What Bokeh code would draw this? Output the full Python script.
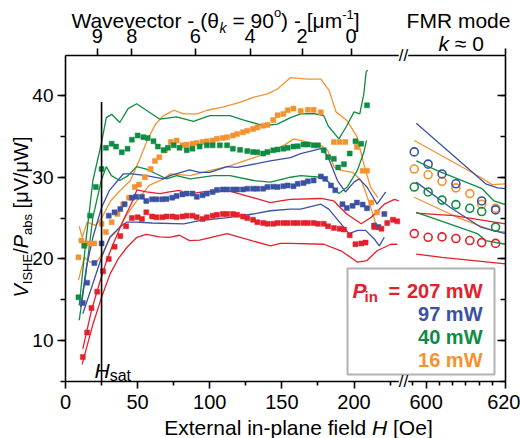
from math import pi
from bokeh.plotting import figure
from bokeh.models import (Label, BoxAnnotation, LinearAxis, FixedTicker,
                          SingleIntervalTicker, Range1d, GridBox)
from bokeh.embed import file_html
from bokeh.resources import INLINE

# ---------------- data ----------------
H_SAT = 25  # Oe

red_sq_H = [12, 15, 18, 22, 26, 30, 34, 38, 42, 46, 50, 53, 56, 60, 63, 67, 70, 74, 77, 81,
            84, 88, 91, 95, 98, 102, 105, 109, 112, 116, 119, 123, 126, 130, 133, 137, 140, 144, 147, 151,
            154, 158, 161, 165, 168, 172, 175, 179, 182, 186, 190, 193, 197, 201, 205, 208, 214, 219, 223, 227, 230]
red_sq_V = [8.0, 11.0, 14.0, 16.0, 18.5, 20.0, 21.5, 22.8, 24.0, 25.0, 25.1, 24.9, 25.7, 25.2, 25.1, 25.1, 25.2, 25.2, 25.1, 25.2,
            25.3, 25.3, 25.1, 24.9, 25.1, 25.3, 25.4, 25.5, 25.5, 25.5, 25.4, 25.2, 25.0, 24.8, 24.5, 24.4, 24.3, 24.3, 24.4, 24.4,
            24.4, 24.4, 24.4, 24.4, 24.4, 24.4, 24.3, 24.3, 24.0, 23.8, 23.7, 23.6, 22.9, 21.8, 21.9, 22.0, 23.9, 23.7, 24.4, 24.8, 24.6]

blue_sq_H = [12, 15, 20, 25, 30, 34, 38, 41, 46, 49, 53, 56, 60, 63, 67, 70, 74, 77, 81, 84,
             88, 91, 95, 98, 102, 105, 109, 112, 116, 119, 123, 126, 130, 133, 137, 140, 144, 147, 151, 154,
             158, 161, 165, 168, 172, 177, 180, 184, 187, 192, 195, 199, 202, 206, 209, 214, 217, 221]
blue_sq_V = [14.6, 17.1, 19.5, 21.9, 25.3, 25.7, 26.1, 26.7, 27.5, 27.6, 27.6, 27.1, 27.3, 27.3, 27.3, 27.35, 27.5, 27.7, 27.9, 28.0,
             28.0, 27.6, 27.8, 28.0, 28.2, 28.45, 28.5, 28.5, 28.5, 28.5, 28.5, 28.6, 28.6, 28.6, 28.6, 28.8, 28.85, 28.8, 28.9, 29.0,
             28.9, 29.2, 29.3, 29.5, 29.6, 30.1, 29.8, 29.0, 28.4, 26.7, 26.25, 26.5, 26.9, 26.65, 26.2, 24.1, 23.9, 25.5]

green_sq_H = [9, 13, 17, 21, 25, 28, 32, 35, 39, 43, 46, 50, 54, 57, 61, 64, 68, 71, 75, 79,
              84, 88, 93, 98, 102, 107, 112, 116, 121, 126, 130, 133, 137, 140, 144, 147, 151, 154, 158, 161,
              165, 168, 172, 175, 179, 182, 186, 189, 193, 197, 201, 205, 209]
green_sq_V = [15.3, 21.6, 25.3, 28.8, 31.0, 33.6, 34.1, 33.75, 33.05, 33.5, 34.6, 35.1, 34.9, 34.8, 34.4, 33.75, 33.3, 33.6, 33.9, 33.6,
              33.3, 33.5, 33.75, 33.9, 33.9, 33.9, 33.9, 33.5, 33.35, 33.2, 33.1, 33.05, 32.9, 33.1, 33.3, 33.4, 33.5, 33.6, 33.75, 33.8,
              34.0, 34.0, 33.9, 33.9, 33.3, 32.45, 32.25, 31.2, 31.6, 32.9, 34.4, 34.1, 38.8]

orange_sq_H = [9, 11, 14, 17, 20, 25, 28, 32, 36, 40, 44, 48, 51, 55, 59, 62, 65, 69, 73, 77,
               81, 84, 88, 91, 95, 98, 102, 105, 109, 112, 116, 119, 123, 126, 130, 133, 137, 140, 144, 147,
               151, 154, 158, 163, 168, 172, 177, 186, 190, 194, 202, 206, 209, 212, 216]
orange_sq_V = [20.2, 22.25, 21.9, 21.9, 21.9, 24.3, 23.3, 24.5, 25.5, 26.7, 27.5, 28.8, 29.1, 30.0, 31.0, 32.0, 32.45, 33.3, 34.3, 34.5,
               33.9, 34.0, 34.1, 34.2, 34.3, 34.4, 34.5, 34.7, 34.8, 34.9, 35.1, 35.3, 35.5, 35.7, 35.9, 36.1, 36.3, 36.4, 37.0, 37.6,
               37.75, 38.2, 38.4, 38.1, 38.25, 38.25, 37.95, 34.3, 34.3, 34.3, 33.7, 30.8, 30.8, 26.9, 25.7]

red_hi_H = [12, 18, 24, 28.5, 33, 40, 46, 49.5, 56, 65.5, 72, 79, 84, 95, 112, 128, 142, 149, 156, 177, 186, 195, 205, 212, 221, 228, 231]
red_hi_V = [9.0, 13.7, 17.3, 19.8, 21.8, 24.7, 26.9, 28.45, 28.2, 28.0, 28.2, 28.4, 27.9, 28.2, 28.4, 27.6, 26.9, 27.1, 27.3, 27.4, 27.1, 25.5, 24.3, 25.1, 26.7, 27.3, 27.1]
red_lo_H = [11.5, 19, 25, 31, 36.5, 42.5, 49.5, 56, 65, 72, 79, 86, 93, 112, 142, 149, 156, 179, 191, 202.5, 209, 216, 225.5, 230]
red_lo_V = [7.1, 12.0, 15.3, 18.2, 20.0, 21.4, 22.65, 23.0, 22.7, 22.65, 22.9, 22.25, 22.3, 23.1, 21.6, 21.9, 21.9, 21.8, 21.0, 19.6, 19.8, 21.0, 21.8, 21.8]

blue_hi_H = [10.5, 14.5, 19, 25, 30.5, 40, 46, 56, 68, 72.5, 86, 93, 100, 112, 119, 142, 156, 163, 177, 181.5, 188.5, 194, 200, 203.5, 209, 216, 222]
blue_hi_V = [14.1, 19.0, 22.65, 26.3, 28.4, 30.4, 30.4, 30.2, 29.8, 30.2, 30.9, 30.6, 30.6, 31.3, 31.2, 32.0, 32.4, 32.9, 33.5, 32.7, 29.6, 28.2, 29.4, 29.8, 28.8, 26.7, 28.2]
blue_lo_H = [12, 19, 25, 30.7, 37.6, 42.3, 49, 60, 82, 93, 114, 130, 142, 156, 163, 177, 182.5, 191, 196.5, 202.5, 208, 214, 217.5, 221]
blue_lo_V = [13.3, 17.0, 20.2, 22.65, 23.9, 24.5, 24.5, 24.4, 24.3, 24.7, 25.1, 25.5, 25.9, 26.1, 26.1, 26.7, 26.1, 24.3, 23.1, 23.5, 23.5, 22.45, 21.6, 22.65]

green_hi_H = [9.5, 14, 19, 24.8, 28.3, 32, 37.6, 43.4, 49.3, 56, 65.5, 77, 88.7, 100, 114, 123.6, 137.5, 146.8, 156, 163,
              172, 179, 182, 189.5, 195, 200, 204, 206.8, 208.4, 209.5]
green_hi_V = [14.3, 22.0, 29.6, 34.1, 37.3, 37.7, 36.7, 38.4, 39.0, 38.2, 37.1, 37.4, 36.85, 37.55, 37.55, 37.0, 36.3, 36.5, 37.3, 37.75,
              37.8, 37.55, 36.3, 34.7, 36.3, 38.0, 37.75, 40.2, 42.9, 43.1]
green_lo_H = [9.5, 14, 19, 24.8, 28.3, 31.8, 37.6, 43.4, 49.3, 56, 63.2, 70, 77, 86.4, 102.6, 114, 130.5, 142, 156, 163,
              177, 182.5, 189.5, 195.3, 202.2, 206.8, 208.7]
green_lo_V = [12.5, 18.0, 25.1, 29.6, 31.3, 30.2, 29.6, 30.2, 31.3, 31.0, 30.4, 29.8, 30.2, 29.8, 30.2, 30.2, 29.6, 29.4, 30.0, 30.2,
              30.0, 29.4, 28.0, 28.8, 30.8, 33.05, 34.5]

orange_hi_H = [9.5, 11.6, 15, 20.8, 25.4, 31.2, 38.1, 45, 52, 56.6, 62.4, 68.1, 75.1, 82, 91.3, 98.2, 109.7, 121.3, 130.5, 140,
               147, 156, 167.7, 177, 182.8, 187.5, 195.3, 202.2, 206.8, 211.4, 216.5]
orange_hi_V = [24.0, 22.65, 24.5, 24.1, 25.1, 27.1, 28.4, 29.6, 32.45, 34.5, 36.5, 37.55, 38.2, 37.75, 37.75, 38.2, 38.6, 39.2, 39.8, 40.2,
               40.8, 42.2, 42.0, 42.0, 40.6, 38.0, 36.9, 34.9, 31.6, 28.8, 27.5]
orange_lo_H = [9, 13, 17, 21.5, 25.4, 31.2, 37, 42.8, 48.5, 58, 68, 72.5, 86.4, 100, 114, 128, 142, 151.4, 158.4, 167.7,
               177, 181.7, 186.3, 192, 199, 205, 208.4, 213, 216.5]
orange_lo_V = [17.4, 20.2, 19.6, 19.6, 20.6, 22.65, 23.7, 25.5, 26.9, 29.0, 29.8, 30.4, 30.2, 30.8, 31.4, 32.25, 33.05, 33.9, 34.7, 34.3,
               33.9, 33.3, 31.2, 30.8, 30.6, 29.6, 28.0, 25.5, 23.5]

# FMR mode (k ~ 0), high-field part
fmr_H = [597, 600.5, 604, 607.5, 611, 614, 617.5]
fmr_blue_H = [597, 600.5, 604, 607.5, 614, 617.5]
fmr_blue_V = [33.1, 31.6, 30.4, 29.2, 27.1, 26.0]
fmr_orange_V = [31.0, 30.3, 29.5, 28.7, 28.0, 26.7, 26.2]
fmr_green_V = [28.8, 28.2, 27.2, 26.65, 26.2, 25.8, 23.9]
fmr_red_V = [23.1, 22.65, 22.7, 22.5, 22.25, 22.0, 21.9]

fmr_blue_hi_H = [597.5, 615, 618, 620]
fmr_blue_hi_V = [36.6, 29.2, 28.7, 28.6]
fmr_orange_hi_H = [597, 613.7, 616.6, 620]
fmr_orange_hi_V = [34.5, 30.0, 29.1, 29.2]
fmr_green_hi_H = [597.5, 602.8, 614.1, 617.1, 620]
fmr_green_hi_V = [32.0, 30.8, 28.6, 27.1, 26.65]
fmr_red_hi_H = [597.5, 607, 620]
fmr_red_hi_V = [25.6, 25.3, 24.3]
fmr_blue_lo_H = [597.5, 606.1, 613.7, 620]
fmr_blue_lo_V = [29.4, 26.3, 23.9, 23.1]
fmr_orange_lo_H = [597, 607.8, 617.1, 620]
fmr_orange_lo_V = [27.55, 25.1, 23.4, 23.3]
fmr_green_lo_H = [597.5, 612.9, 615, 620]
fmr_green_lo_V = [25.7, 23.1, 22.25, 21.8]
fmr_red_lo_H = [597.5, 604, 620]
fmr_red_lo_V = [20.6, 20.2, 19.4]

# top axis: wavevector (um^-1) and the field where it sits
k_labels = ["9", "8", "6", "4", "2", "0"]
k_field = [22, 46, 90, 128, 164, 198]

legend_powers = ["207 mW", "97 mW", "40 mW", "16 mW"]

# ---------------- style / geometry ----------------
RED, BLUE, GREEN, ORANGE = "#e3202b", "#3b52a3", "#0f8c43", "#f4922f"
FONT = "Liberation Sans"

W, HGT = 520, 438
FL, FR, FT, FB = 65, 505, 55, 381
XR = (0, 305)
YR = (5, 44.9)


def brk(vals):
    """map the high-field (FMR) part of the broken axis onto the plot's x range"""
    return [250 + (v - 600) * 2.75 for v in vals]


def X(px):
    return XR[0] + (px - FL) * (XR[1] - XR[0]) / (FR - FL)


def Y(py):
    return YR[0] + (FB - py) * (YR[1] - YR[0]) / (FB - FT)


p = figure(width=W, height=HGT, x_range=Range1d(*XR), y_range=Range1d(*YR),
           output_backend="svg", toolbar_location=None,
           x_axis_location=None, y_axis_location=None,
           min_border_left=FL, min_border_right=W - FR,
           min_border_top=FT, min_border_bottom=HGT - FB)
p.outline_line_color = None
p.grid.visible = False
p.frame_align = False

# transparent overlay with the same data mapping, whose frame is the whole canvas (for texts)
o = figure(width=W, height=HGT, x_range=Range1d(X(0), X(W)), y_range=Range1d(Y(HGT), Y(0)),
           output_backend="svg", toolbar_location=None,
           x_axis_location=None, y_axis_location=None,
           min_border_left=0, min_border_right=0, min_border_top=0, min_border_bottom=0)
o.outline_line_color = None
o.grid.visible = False
o.background_fill_alpha = 0
o.border_fill_alpha = 0
o.frame_align = False


def style_axis(ax, size="19px"):
    ax.axis_line_width = 1.6
    ax.major_tick_line_width = 1.6
    ax.minor_tick_line_width = 1.6
    ax.major_label_text_font = FONT
    ax.major_label_text_font_size = size
    ax.major_label_text_color = "black"


yl = LinearAxis(ticker=SingleIntervalTicker(interval=10, num_minor_ticks=2))
style_axis(yl)
yl.major_tick_out, yl.major_tick_in = 8, 0
yl.minor_tick_out, yl.minor_tick_in = 5, 0
yl.major_label_standoff = 4
p.add_layout(yl, "left")

yr = LinearAxis(ticker=SingleIntervalTicker(interval=10, num_minor_ticks=2),
                major_label_overrides={10: "", 20: "", 30: "", 40: ""})
style_axis(yr)
yr.major_tick_out, yr.major_tick_in = 0, 8
yr.minor_tick_out, yr.minor_tick_in = 0, 5
p.add_layout(yr, "right")

right_minor = [596.67, 603.33, 606.67, 610, 613.33, 616.67]
xb = LinearAxis(ticker=FixedTicker(ticks=[0, 50, 100, 150, 200, 250, 305],
                                   minor_ticks=[25, 75, 125, 175, 225] + brk(right_minor)),
                major_label_overrides={250: "600", 305: "620"})
style_axis(xb, "20px")
xb.major_tick_out, xb.major_tick_in = 7, 0
xb.minor_tick_out, xb.minor_tick_in = 4, 0
xb.major_label_standoff = 6
p.add_layout(xb, "below")

xt = LinearAxis(ticker=FixedTicker(ticks=k_field + [305], minor_ticks=[]),
                major_label_overrides={**{f: s for f, s in zip(k_field, k_labels)}, 305: ""})
style_axis(xt, "20px")
xt.major_tick_out, xt.major_tick_in = 7, 0
xt.major_label_standoff = 6
p.add_layout(xt, "above")

# ---------------- data glyphs ----------------
series = [
    (ORANGE, orange_hi_H, orange_hi_V, orange_lo_H, orange_lo_V, orange_sq_H, orange_sq_V,
     fmr_orange_hi_H, fmr_orange_hi_V, fmr_orange_lo_H, fmr_orange_lo_V, fmr_H, fmr_orange_V),
    (GREEN, green_hi_H, green_hi_V, green_lo_H, green_lo_V, green_sq_H, green_sq_V,
     fmr_green_hi_H, fmr_green_hi_V, fmr_green_lo_H, fmr_green_lo_V, fmr_H, fmr_green_V),
    (BLUE, blue_hi_H, blue_hi_V, blue_lo_H, blue_lo_V, blue_sq_H, blue_sq_V,
     fmr_blue_hi_H, fmr_blue_hi_V, fmr_blue_lo_H, fmr_blue_lo_V, fmr_blue_H, fmr_blue_V),
    (RED, red_hi_H, red_hi_V, red_lo_H, red_lo_V, red_sq_H, red_sq_V,
     fmr_red_hi_H, fmr_red_hi_V, fmr_red_lo_H, fmr_red_lo_V, fmr_H, fmr_red_V),
]

for (c, hH, hV, lH, lV, sH, sV, fhH, fhV, flH, flV, fH, fV) in series:
    p.line(hH, hV, color=c, line_width=1.3)
    p.line(lH, lV, color=c, line_width=1.3)
    p.line(brk(fhH), fhV, color=c, line_width=1.3)
    p.line(brk(flH), flV, color=c, line_width=1.3)

for (c, hH, hV, lH, lV, sH, sV, fhH, fhV, flH, flV, fH, fV) in series:
    p.scatter(sH, sV, marker="square", size=5, fill_color=c, line_color=c, line_width=0.5)
    p.scatter(brk(fH), fV, marker="circle", size=8, fill_color=None, line_color=c, line_width=1.6)

# H_sat marker line
p.segment(x0=[H_SAT], y0=[YR[0]], x1=[H_SAT], y1=[39.2], line_color="black", line_width=1.6)

# ---------------- text (drawn on the overlay) ----------------
REG = {' ': 278, '(': 333, ')': 333, '-': 333, '/': 278, '=': 584, '[': 278, ']': 278,
       'E': 667, 'F': 611, 'H': 722, 'I': 278, 'M': 833, 'O': 778, 'P': 667, 'R': 722,
       'S': 667, 'V': 667, 'W': 944, 'a': 556, 'b': 556, 'c': 500, 'd': 556, 'e': 556,
       'f': 278, 'i': 222, 'k': 500, 'l': 222, 'm': 833, 'n': 556, 'o': 556, 'p': 556,
       'r': 333, 's': 500, 't': 278, 'v': 500, 'x': 500, 'μ': 577, 'θ': 556, '≈': 584}
BOLD = {' ': 278, '=': 584, 'm': 889, 'W': 944, 'P': 667, 'i': 278, 'n': 611}


def tw(text, size, bold=False):
    tbl = BOLD if bold else REG
    return sum(tbl.get(ch, 556) for ch in text) * size / 1000.0


def runs(segs, px, py, angle=0.0, align="left"):
    """segs: (text, size, style, shift_up_px, color); px/py are canvas pixels.
    Leading/trailing blanks are turned into advances (SVG would drop them)."""
    total = sum(tw(t, s, "bold" in st) for t, s, st, sh, c in segs)
    pos = {"left": 0, "center": -total / 2, "right": -total}[align]
    for t, s, st, sh, c in segs:
        bold = "bold" in st
        lead = len(t) - len(t.lstrip(" "))
        pos += tw(" " * lead, s, bold)
        core = t.strip(" ")
        if core:
            if angle == 0:
                lx, ly = px + pos, py - sh
            else:
                lx, ly = px - sh, py - pos
            o.add_layout(Label(x=X(lx), y=Y(ly), text=core, angle=angle,
                               text_font=FONT, text_font_size=f"{s}px", text_font_style=st,
                               text_color=c, text_align="left", text_baseline="alphabetic"))
        pos += tw(t.lstrip(" "), s, bold)


K = "black"
# axis breaks (white gap + //)
for py in (FB, FT):
    o.add_layout(Label(x=X(403), y=Y(py), text="//", text_font=FONT, text_font_size="17px",
                       text_align="center", text_baseline="middle", background_fill_color="white",
                       text_color="black"))

# y-axis title
runs([("V", 20, "italic", 0, K), ("ISHE", 13, "normal", -7, K), ("/", 20, "normal", 0, K),
      ("P", 20, "italic", 0, K), ("abs", 13, "normal", -7, K), (" [μV/μW]", 20, "normal", 0, K)],
     20, 297, angle=pi / 2)
# x-axis title
runs([("External in-plane field ", 21, "normal", 0, K), ("H", 21, "italic", 0, K),
      (" [Oe]", 21, "normal", 0, K)], 298, 427, align="center")
# top title
runs([("Wavevector - (θ", 21, "normal", 0, K), ("k", 14, "italic", -7, K), (" = 90", 21, "normal", 0, K),
      ("o", 13, "normal", 8, K), (") - [μm", 21, "normal", 0, K), ("-1", 13, "normal", 6, K),
      ("]", 21, "normal", 0, K)], 215, 20, align="center")
runs([("FMR mode", 21, "normal", 0, K)], 458, 20, align="center")
runs([("k", 21, "italic", 0, K), (" ≈ 0", 21, "normal", 0, K)], 461, 43, align="center")
# H_sat
runs([("H", 21, "italic", 0, K), ("sat", 16, "normal", -5, K)], 94, 370)

# legend box
o.add_layout(BoxAnnotation(left=X(347), right=X(494), top=Y(268), bottom=Y(374),
                           fill_color="white", fill_alpha=1.0, line_color="black", line_width=2))
leg_colors = [RED, BLUE, GREEN, ORANGE]
for i, (txt, c) in enumerate(zip(legend_powers, leg_colors)):
    runs([(txt, 20, "bold", 0, c)], 482, 290 + 23.3 * i, align="right")
runs([("P", 21, "bold italic", 0, RED)], 352, 290)
runs([("in", 15, "bold", -6, RED)], 364, 290)
runs([("=", 20, "bold", 0, RED)], 388, 290)

layout = GridBox(children=[(p, 0, 0), (o, 0, 0)])
open("out.html", "w").write(file_html(layout, INLINE))
